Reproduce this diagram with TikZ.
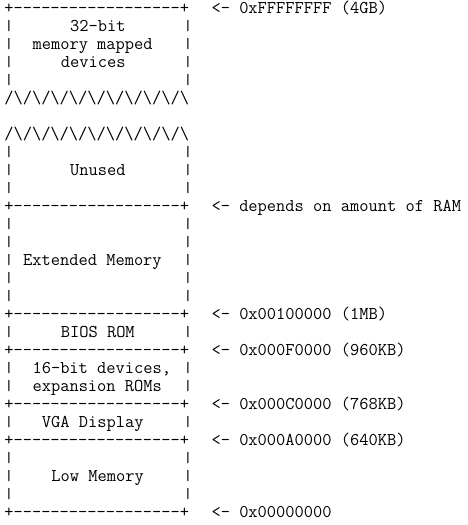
\documentclass[tikz,border=0pt]{standalone}
\usepackage{fontspec}
\usepackage{graphicx}
\tikzset{txt/.style={anchor=base west, inner sep=0pt, outer sep=0pt,
  font=\ttfamily\fontsize{17.94}{18}\selectfont, text=black}}
% #1 name, #2 column, #3 row, #4 text
\newcommand\cell[4]{\node[txt] (#1) at ({4.3+#2*9.42},{13.7+18*(#3-1)}) {#4};}
\newcommand\vbar{\raisebox{1pt}{\scalebox{1}[0.82]{|}}}
\newcommand\bars[1]{\cell{l#1}{0}{#1}{\vbar}\cell{r#1}{19}{#1}{\vbar}}
\newcommand\dashrow{+------------------+}
\newcommand\zigzag{/\textbackslash/\textbackslash/\textbackslash/\textbackslash/\textbackslash/\textbackslash/\textbackslash/\textbackslash/\textbackslash/\textbackslash}
\begin{document}
\begin{tikzpicture}[x=1pt,y=-1pt]
\useasboundingbox (0,0) rectangle (468,525);
% top region
\cell{b1}{0}{1}{\dashrow}
\cell{a1}{22}{1}{<- 0xFFFFFFFF (4GB)}
\bars{2}\cell{t2}{7}{2}{32-bit}
\bars{3}\cell{t3}{3}{3}{memory mapped}
\bars{4}\cell{t4}{6}{4}{devices}
\bars{5}
\cell{z6}{0}{6}{\zigzag}
\cell{z8}{0}{8}{\zigzag}
\bars{9}
\bars{10}\cell{t10}{7}{10}{Unused}
\bars{11}
\cell{b12}{0}{12}{\dashrow}
\cell{a12}{22}{12}{<- depends on amount of RAM}
\bars{13}\bars{14}
\bars{15}\cell{t15}{2}{15}{Extended Memory}
\bars{16}\bars{17}
\cell{b18}{0}{18}{\dashrow}
\cell{a18}{22}{18}{<- 0x00100000 (1MB)}
\bars{19}\cell{t19}{6}{19}{BIOS ROM}
\cell{b20}{0}{20}{\dashrow}
\cell{a20}{22}{20}{<- 0x000F0000 (960KB)}
\bars{21}\cell{t21}{3}{21}{16-bit devices,}
\bars{22}\cell{t22}{3}{22}{expansion ROMs}
\cell{b23}{0}{23}{\dashrow}
\cell{a23}{22}{23}{<- 0x000C0000 (768KB)}
\bars{24}\cell{t24}{4}{24}{VGA Display}
\cell{b25}{0}{25}{\dashrow}
\cell{a25}{22}{25}{<- 0x000A0000 (640KB)}
\bars{26}
\bars{27}\cell{t27}{5}{27}{Low Memory}
\bars{28}
\cell{b29}{0}{29}{\dashrow}
\cell{a29}{22}{29}{<- 0x00000000}
\end{tikzpicture}
\end{document}
